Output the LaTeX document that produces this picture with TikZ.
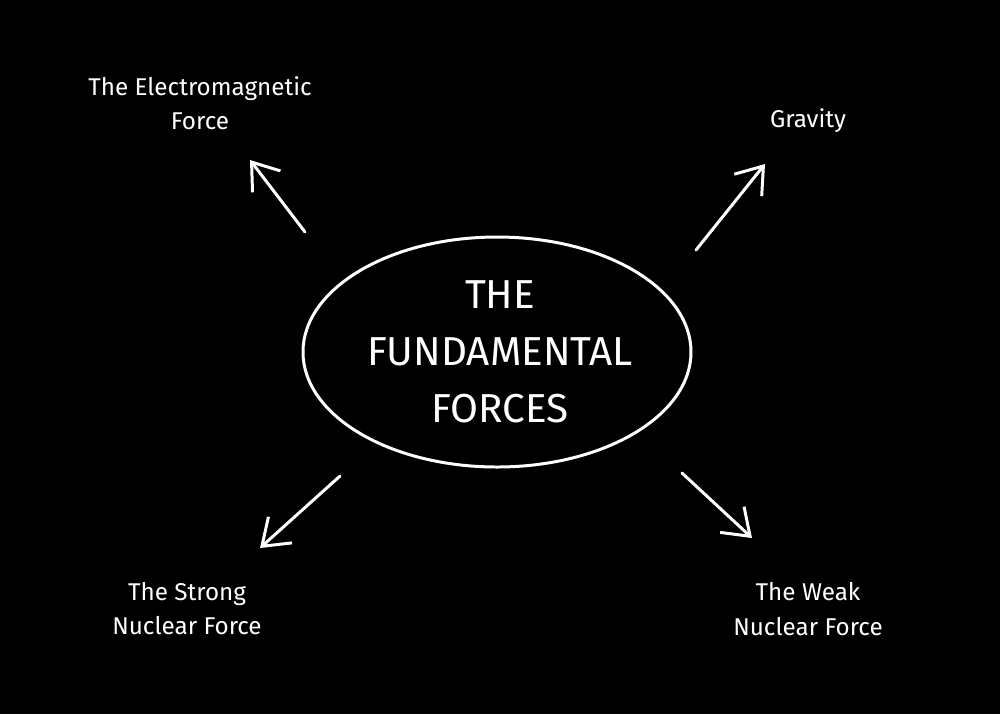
\documentclass[tikz,border=0pt]{standalone}
\usepackage{fontspec}
\setmainfont{Fira Sans}
\usetikzlibrary{arrows.meta}
\begin{document}
\begin{tikzpicture}[x=0.1mm,y=-0.1mm,
  lbl/.style={text=white,font=\fontsize{6.9pt}{9.7pt}\selectfont,align=center},
  arr/.style={draw=white,line width=0.85pt,line cap=round,-{Straight Barb[length=7pt,width=10pt,line width=0.85pt]}}]
\fill[black] (0,0) rectangle (1000,714);
\useasboundingbox (0,0) rectangle (1000,714);
\draw[white,line width=0.85pt] (497,352) ellipse [x radius=194, y radius=115];
\node[text=white,align=center,font=\fontsize{11.5pt}{16.2pt}\selectfont] (c) at (500,352) {THE\\FUNDAMENTAL\\FORCES};
\node[lbl] (em) at (200,103) {The Electromagnetic\\Force};
\node[lbl] (gr) at (808,121) {Gravity};
\node[lbl] (st) at (187,609) {The Strong\\Nuclear Force};
\node[lbl] (wk) at (808,609) {The Weak\\Nuclear Force};
\coordinate (a1) at (305,232); \coordinate (b1) at (250,160);
\coordinate (a2) at (696,250); \coordinate (b2) at (765,164);
\coordinate (a3) at (340,476); \coordinate (b3) at (260,548);
\coordinate (a4) at (682,473); \coordinate (b4) at (752,538);
\draw[arr] (a1) -- (b1);
\draw[arr] (a2) -- (b2);
\draw[arr] (a3) -- (b3);
\draw[arr] (a4) -- (b4);
\end{tikzpicture}
\end{document}
